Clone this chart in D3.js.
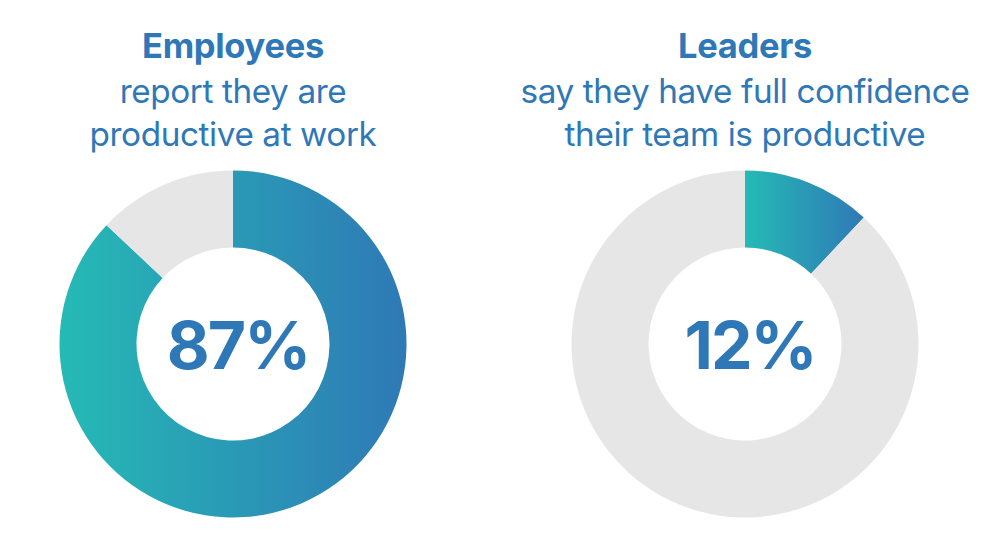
<!DOCTYPE html>
<html><head><meta charset="utf-8">
<script src="https://cdn.jsdelivr.net/npm/d3@7"></script>
<style>body{margin:0;background:#fff}</style>
</head><body><svg id="c" width="1000" height="551"></svg>
<script>
const groups = ["Employees", "Leaders"];
const subtitles = [["report they are", "productive at work"], ["say they have full confidence", "their team is productive"]];
const values = [87, 12];
const labels = ["87%", "12%"];

const svg = d3.select("#c");
const x = d3.scalePoint().domain(groups).range([233, 745]);
const rOuter = 173.5, rInner = 96.5, cy = 344;
const textColor = "#2f78b7";
const defs = svg.append("defs");

groups.forEach((g, i) => {
  const cx = x(g);
  const pie = d3.pie().sort(null).value(d => d)([values[i], 100 - values[i]]);
  const arc = d3.arc().innerRadius(rInner).outerRadius(rOuter);
  const grad = defs.append("linearGradient").attr("id", "grad" + i)
    .attr("x1", "0%").attr("x2", "100%").attr("y1", "0%").attr("y2", "0%");
  grad.append("stop").attr("offset", "0%").attr("stop-color", "#25bab5");
  grad.append("stop").attr("offset", "100%").attr("stop-color", "#2f79b6");
  const gg = svg.append("g").attr("transform", `translate(${cx},${cy})`);
  gg.selectAll("path").data(pie).join("path")
    .attr("d", arc)
    .attr("fill", (d, j) => j === 0 ? `url(#grad${i})` : "#e6e6e6");
  gg.append("text").attr("x", 5).attr("y", 25)
    .attr("text-anchor", "middle")
    .attr("font-family", "Inter").attr("font-weight", 700).attr("font-size", 66)
    .attr("letter-spacing", -2)
    .attr("fill", textColor).text(labels[i]);
  const t = svg.append("text").attr("text-anchor", "middle").attr("font-family", "Inter").attr("fill", textColor);
  t.append("tspan").attr("x", cx).attr("y", 58).attr("font-weight", 700).attr("font-size", 34.5).attr("letter-spacing", -0.3).text(g);
  subtitles[i].forEach((s, k) => {
    t.append("tspan").attr("x", cx).attr("y", 103 + k * 43).attr("font-weight", 400).attr("font-size", 33.3).attr("letter-spacing", -0.4).text(s);
  });
});
</script></body></html>
